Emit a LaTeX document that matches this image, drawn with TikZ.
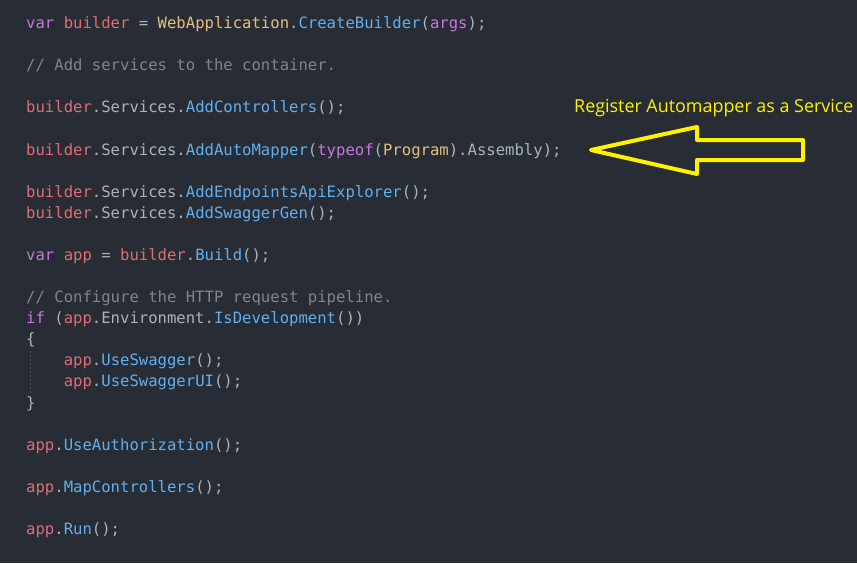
\documentclass[tikz,border=0pt]{standalone}
\usepackage{fontspec}
\setmonofont{DejaVu Sans Mono}
\newfontfamily\notefont{Open Sans}
\usetikzlibrary{positioning}

\definecolor{bgdark}{HTML}{282C34}
\definecolor{codegray}{HTML}{ABB2BF}
\definecolor{commentgray}{HTML}{7F848E}
\definecolor{kwpurple}{HTML}{C678DD}
\definecolor{varred}{HTML}{E06C75}
\definecolor{typeyellow}{HTML}{E5C07B}
\definecolor{funblue}{HTML}{61AFEF}
\definecolor{noteyellow}{HTML}{FFF200}
\definecolor{guidegray}{HTML}{4B515C}

% token colours
\newcommand{\ckw}[1]{\textcolor{kwpurple}{#1}}
\newcommand{\cvar}[1]{\textcolor{varred}{#1}}
\newcommand{\ctype}[1]{\textcolor{typeyellow}{#1}}
\newcommand{\cfun}[1]{\textcolor{funblue}{#1}}
\newcommand{\ccom}[1]{\textcolor{commentgray}{#1}}

\begin{document}
\begin{tikzpicture}[
  x=1pt, y=-1pt,
  codeline/.style = {
    anchor=base west,
    inner sep=0pt,
    text=codegray,
    font=\ttfamily\fontsize{15.6}{18}\selectfont
  },
  notetext/.style = {
    anchor=base west,
    inner sep=0pt,
    text=noteyellow,
    font=\notefont\fontsize{17.9}{20}\selectfont
  },
  arrowline/.style = {
    draw=noteyellow,
    line width=4pt,
    line join=round
  },
  guideline/.style = {
    draw=guidegray,
    line width=0.8pt,
    dash pattern=on 2pt off 2pt
  },
]
  \fill[bgdark] (0,0) rectangle (857,563);
  \useasboundingbox (0,0) rectangle (857,563);

  \node (builder)[codeline] at (26,28.5)
    {\ckw{var} \cvar{builder} = \ctype{WebApplication}.\cfun{CreateBuilder}(\ckw{args});};
  \node (addcomment)[codeline] at (26,70.7)
    {\ccom{// Add services to the container.}};
  \node (controllers)[codeline] at (26,112.8)
    {\cvar{builder}.Services.\cfun{AddControllers}();};
  \node (mapper)[codeline] at (26,155.0)
    {\cvar{builder}.Services.\cfun{AddAutoMapper}(\ckw{typeof}(\ctype{Program}).Assembly);};
  \node (explorer)[codeline] at (26,197.1)
    {\cvar{builder}.Services.\cfun{AddEndpointsApiExplorer}();};
  \node (swaggergen)[codeline] at (26,218.2)
    {\cvar{builder}.Services.\cfun{AddSwaggerGen}();};
  \node (app)[codeline] at (26,260.4)
    {\ckw{var} \cvar{app} = \cvar{builder}.\cfun{Build}();};
  \node (pipecomment)[codeline] at (26,302.5)
    {\ccom{// Configure the HTTP request pipeline.}};
  \node (ifdev)[codeline] at (26,323.6)
    {\ckw{if} (\cvar{app}.Environment.\cfun{IsDevelopment}())};
  \node (open)[codeline] at (26,344.7) {\{};
  \node (swagger)[codeline] at (63.6,365.8)
    {\cvar{app}.\cfun{UseSwagger}();};
  \node (swaggerui)[codeline] at (63.6,386.9)
    {\cvar{app}.\cfun{UseSwaggerUI}();};
  \node (close)[codeline] at (26,408.0) {\}};
  \node (auth)[codeline] at (26,450.1)
    {\cvar{app}.\cfun{UseAuthorization}();};
  \node (mapctl)[codeline] at (26,492.3)
    {\cvar{app}.\cfun{MapControllers}();};
  \node (run)[codeline] at (26,534.4)
    {\cvar{app}.\cfun{Run}();};

  % indent guide of the if block
  \draw[guideline] (30,351) -- (30,395);

  % note and its arrow
  \node (note)[notetext] at (574,112) {Register Automapper as a Service};
  \draw[arrowline] (591,150) -- (697,127) -- (697,140) -- (803,140)
    -- (803,160) -- (697,160) -- (697,174) -- cycle;
\end{tikzpicture}
\end{document}
